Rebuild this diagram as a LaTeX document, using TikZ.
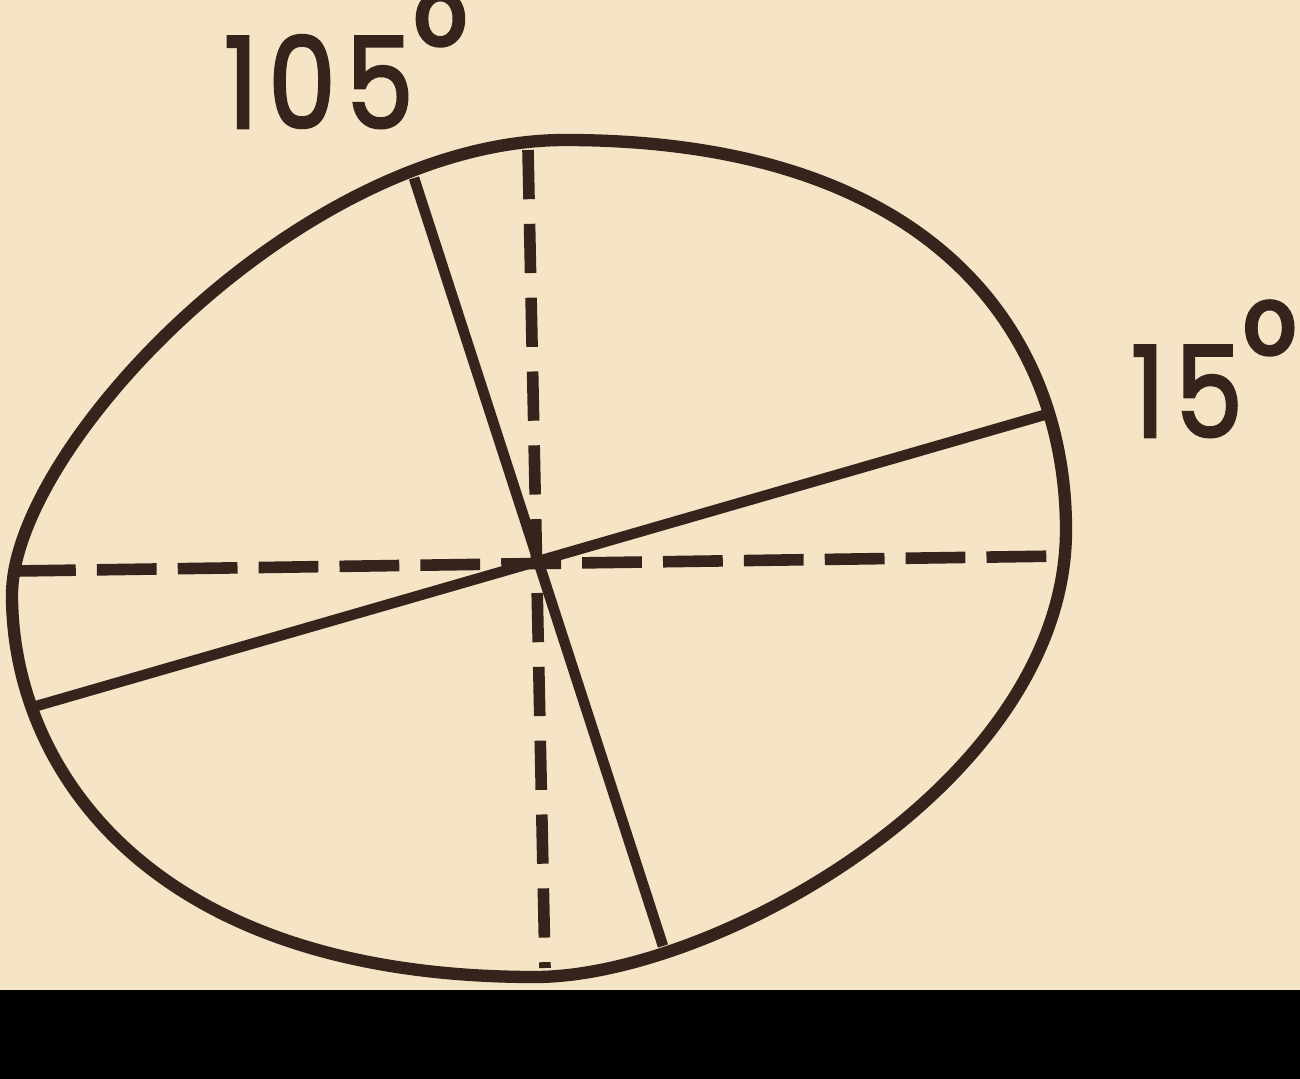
\documentclass[tikz,border=0pt]{standalone}
\usepackage{fontspec}
\newfontfamily\lblfont[FakeStretch=0.85,FakeBold=2,LetterSpace=8]{Poppins}
\usetikzlibrary{positioning}
\definecolor{paper}{RGB}{245,228,197}
\definecolor{ink}{RGB}{52,36,28}
\newcommand{\dg}{\raisebox{8pt}{\fontsize{44}{44}\selectfont °}}

\begin{document}
\begin{tikzpicture}[x=0.01cm,y=-0.01cm,
		outline/.style={draw=ink,line width=3.5pt},
		chord/.style={draw=ink,line width=3pt},
		guide/.style={draw=ink,line width=3.3pt,dash pattern=on 17pt off 6pt},
		lbl/.style={text=ink,inner sep=0pt,font=\lblfont\fontsize{36}{36}\selectfont}]
		\useasboundingbox (0,0) rectangle (1300,1079);
		\fill[paper] (0,0) rectangle (1300,990);
		\fill[black] (0,990) rectangle (1300,1079);
		% outline of the section
		\coordinate (W) at (12,595);
		\coordinate (N) at (565,140);
		\coordinate (E) at (1066,530);
		\coordinate (S) at (535,977);
		\draw[outline] (W) .. controls (12,447) and (302,140) .. (N)
			.. controls (935,140) and (1066,335) .. (E)
			.. controls (1066,782) and (715,977) .. (S)
			.. controls (147,977) and (12,766) .. cycle;
		% ends of the axes
		\coordinate (a15) at (1051,413);
		\coordinate (b15) at (33,707);
		\coordinate (a105) at (414,178);
		\coordinate (b105) at (663,946);
		\coordinate (hl) at (16,571);
		\coordinate (hr) at (1064,556);
		\coordinate (vt) at (528,150);
		\coordinate (vb) at (545,968);
		\draw[guide] (hl) -- (hr);
		\draw[guide,dash pattern=on 14pt off 7pt] (vt) -- (vb);
		\draw[chord] (b15) -- (a15);
		\draw[chord] (a105) -- (b105);
		\node[lbl,anchor=base west] (l105) at (223,128) {105\dg};
		\node[lbl,anchor=base west] (l15) at (1130,437) {15\dg};
\end{tikzpicture}
\end{document}
